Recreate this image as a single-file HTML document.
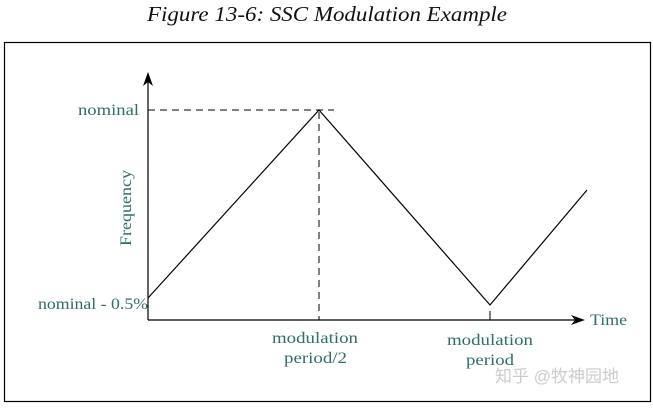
<!DOCTYPE html>
<html><head><style>
body{margin:0;background:#fff;width:653px;height:405px;overflow:hidden}
</style></head><body>
<svg width="653" height="405" xmlns="http://www.w3.org/2000/svg" font-family="Liberation Serif, serif">
<text x="147" y="21" textLength="360" lengthAdjust="spacingAndGlyphs" font-size="21" font-style="italic" fill="#111">Figure 13-6: SSC Modulation Example</text>
<rect x="4.5" y="42.5" width="646" height="359" fill="none" stroke="#000" stroke-width="1.2"/>
<line x1="148" y1="82" x2="148" y2="320" stroke="#000" stroke-width="1.2"/>
<polygon points="148,72 143,86 148,82 153,86" fill="#000"/>
<line x1="148" y1="320" x2="575" y2="320" stroke="#000" stroke-width="1.2"/>
<polygon points="585,320 571,315 575,320 571,325" fill="#000"/>
<line x1="148" y1="110" x2="334" y2="110" stroke="#000" stroke-dasharray="7,5"/>
<line x1="319" y1="112" x2="319" y2="320" stroke="#000" stroke-dasharray="7,5"/>
<line x1="490" y1="311" x2="490" y2="320" stroke="#000"/>
<polyline points="148,298 319,110 490,305 587,190" fill="none" stroke="#000" stroke-width="1.2"/>
<g fill="#2e6e6a" font-size="16">
<text x="78" y="115" textLength="61" lengthAdjust="spacingAndGlyphs">nominal</text>
<text x="38" y="309" textLength="110" lengthAdjust="spacingAndGlyphs">nominal - 0.5%</text>
<text x="131" y="208" text-anchor="middle" transform="rotate(-90 131 208)" textLength="76" lengthAdjust="spacingAndGlyphs">Frequency</text>
<text x="590" y="325" textLength="37" lengthAdjust="spacingAndGlyphs">Time</text>
<text x="272" y="343" textLength="86" lengthAdjust="spacingAndGlyphs">modulation</text>
<text x="284" y="363" textLength="63" lengthAdjust="spacingAndGlyphs">period/2</text>
<text x="447" y="345" textLength="86" lengthAdjust="spacingAndGlyphs">modulation</text>
<text x="466" y="365" textLength="48" lengthAdjust="spacingAndGlyphs">period</text>
</g>
<text x="495" y="382" font-size="17" fill="#ccc" font-family="Liberation Sans, Noto Sans CJK SC, sans-serif">知乎 @牧神园地</text>
</svg>
</body></html>
